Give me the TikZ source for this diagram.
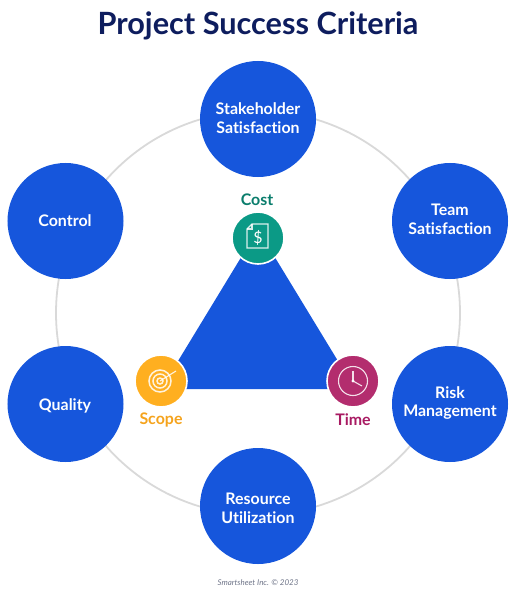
\documentclass[tikz,border=0pt]{standalone}
\usepackage{fontspec}
\setmainfont{Lato}[Ligatures=NoCommon]
\usepackage{xcolor}
\usetikzlibrary{arrows.meta,calc}
\definecolor{titlenavy}{HTML}{0E1D5E}
\definecolor{critblue}{HTML}{1656DC}
\definecolor{costteal}{HTML}{0B9A86}
\definecolor{costtext}{HTML}{0A7D6C}
\definecolor{scopeamber}{HTML}{FFAF20}
\definecolor{scopetext}{HTML}{F5A31C}
\definecolor{timeplum}{HTML}{B32D6E}
\definecolor{timetext}{HTML}{A81A62}
\definecolor{ringgray}{HTML}{D9D9D9}
\definecolor{footgray}{HTML}{6E7488}
\tikzset{
  critnode/.style={circle,fill=critblue,minimum size=116bp,inner sep=0pt},
  critlabel/.style={text=white,inner sep=0pt,align=center,font=\fontsize{16}{18.5}\selectfont\bfseries},
  cornernode/.style={circle,draw=white,line width=1.6bp,minimum size=52bp,inner sep=0pt},
  cornerlabel/.style={font=\fontsize{16}{18}\selectfont\bfseries},
  iconline/.style={draw=white,line width=1.1bp,opacity=0.85},
}
\begin{document}
\begin{tikzpicture}[x=1bp,y=-1bp]
    \useasboundingbox (0,0) rectangle (515,596);
    \node[font=\fontsize{30.8}{36}\selectfont\bfseries,text=titlenavy] (title) at (258,26) {Project Success Criteria};
    % ring behind the six criteria
    \coordinate (hub) at (258,313);
    \draw[ringgray,line width=1.8bp] (hub) circle (202);
    \node[critnode] (stakeholder) at (258,119) {};
    \node[critnode] (team) at (450,221) {};
    \node[critnode] (risk) at (450,404) {};
    \node[critnode] (resource) at (258,506) {};
    \node[critnode] (quality) at (65.5,404) {};
    \node[critnode] (control) at (65.5,221) {};
    \node[critlabel] (stakeholdertext) at (258,118) {Stakeholder\\Satisfaction};
    \node[critlabel] (teamtext) at (450,219.5) {Team\\Satisfaction};
    \node[critlabel] (risktext) at (450,403) {Risk\\Management};
    \node[critlabel] (resourcetext) at (258,508.5) {Resource\\Utilization};
    \node[critlabel] (qualitytext) at (65,406) {Quality};
    \node[critlabel] (controltext) at (65,221) {Control};
    % triangle and its corners
    \coordinate (apex) at (258,229.5);
    \coordinate (baseleft) at (161,389);
    \coordinate (baseright) at (355,389);
    \fill[critblue] (apex) -- (baseright) -- (baseleft) -- cycle;
    \node[cornernode,fill=costteal] (cost) at (258,238) {};
    \node[cornernode,fill=scopeamber] (scope) at (161,381) {};
    \node[cornernode,fill=timeplum] (time) at (353,381) {};
    \node[cornerlabel,text=costtext] (costlabel) at (257,200) {Cost};
    \node[cornerlabel,text=scopetext] (scopelabel) at (161,420) {Scope};
    \node[cornerlabel,text=timetext] (timelabel) at (353,419.5) {Time};
    % cost icon
    \draw[iconline] (252,224) -- (268,224) -- (268,248) -- (247,248) -- (247,229) -- cycle;
    \draw[iconline] (252,224) -- (252,229) -- (247,229);
    \node[text=white,font=\fontsize{16}{16}\selectfont,inner sep=0pt] (dollar) at (258,238) {\$};
    % scope icon
    \foreach \r in {11,7,3}
      \draw[iconline,line width=1.5bp] (scope) ++(-1,0) circle (\r);
    \draw[iconline] (160,381) -- (176,371);
    % time icon
    \draw[iconline] (time) circle (14.5);
    \draw[iconline] (353,381) -- (353,371);
    \draw[iconline] (353,381) -- (362,386);
    \fill[white] (time) circle (1.6);
    \node[text=footgray,font=\fontsize{8}{10}\selectfont\itshape] (footer) at (258,583) {Smartsheet Inc. © 2023};
\end{tikzpicture}
\end{document}
